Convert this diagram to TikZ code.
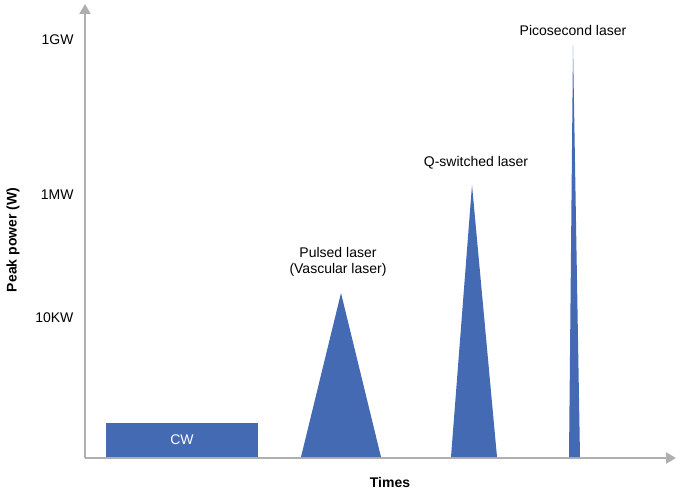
\documentclass[tikz,border=0pt]{standalone}
\usepackage{fontspec}
\setmainfont{Liberation Sans}
\usetikzlibrary{arrows.meta}
\definecolor{bar}{RGB}{68,106,180}
\definecolor{ax}{RGB}{175,175,175}
\begin{document}
\begin{tikzpicture}[x=1pt,y=-1pt,
  lab/.style={font=\fontsize{14}{16}\selectfont,align=center},
  shp/.style={fill=bar,draw=none}]
\useasboundingbox (0,0) rectangle (685,494);
\coordinate (o) at (85,458);
\coordinate (ytop) at (85,4);
\coordinate (xend) at (676,458);
\draw[ax,line width=2.5pt,-{Triangle[length=10pt,width=11pt]}] (o) -- (ytop);
\draw[ax,line width=2.5pt,-{Triangle[length=10pt,width=11pt]}] (o) -- (xend);
\fill[shp] (106,423) rectangle (258,457);
\node[lab,text=white] (cw) at (182,440) {CW};
\fill[shp] (301,457) -- (341,293) -- (381,457) -- cycle;
\fill[shp] (451,457) -- (472,185) -- (497,457) -- cycle;
\fill[shp] (569,457) -- (573,45) -- (580,457) -- cycle;
\node[lab] (pl) at (338,262) {Pulsed laser\\(Vascular laser)};
\node[lab] (ql) at (476,163) {Q-switched laser};
\node[lab] (ps) at (573,30) {Picosecond laser};
\node[lab,anchor=east] (g) at (77,40) {1GW};
\node[lab,anchor=east] (m) at (77,195) {1MW};
\node[lab,anchor=east] (k) at (77,318) {10KW};
\node[lab,font=\fontsize{14}{16}\selectfont\bfseries,rotate=90] (yl) at (13,240) {Peak power (W)};
\node[lab,font=\fontsize{14}{16}\selectfont\bfseries] (xl) at (390,482) {Times};
\end{tikzpicture}
\end{document}
